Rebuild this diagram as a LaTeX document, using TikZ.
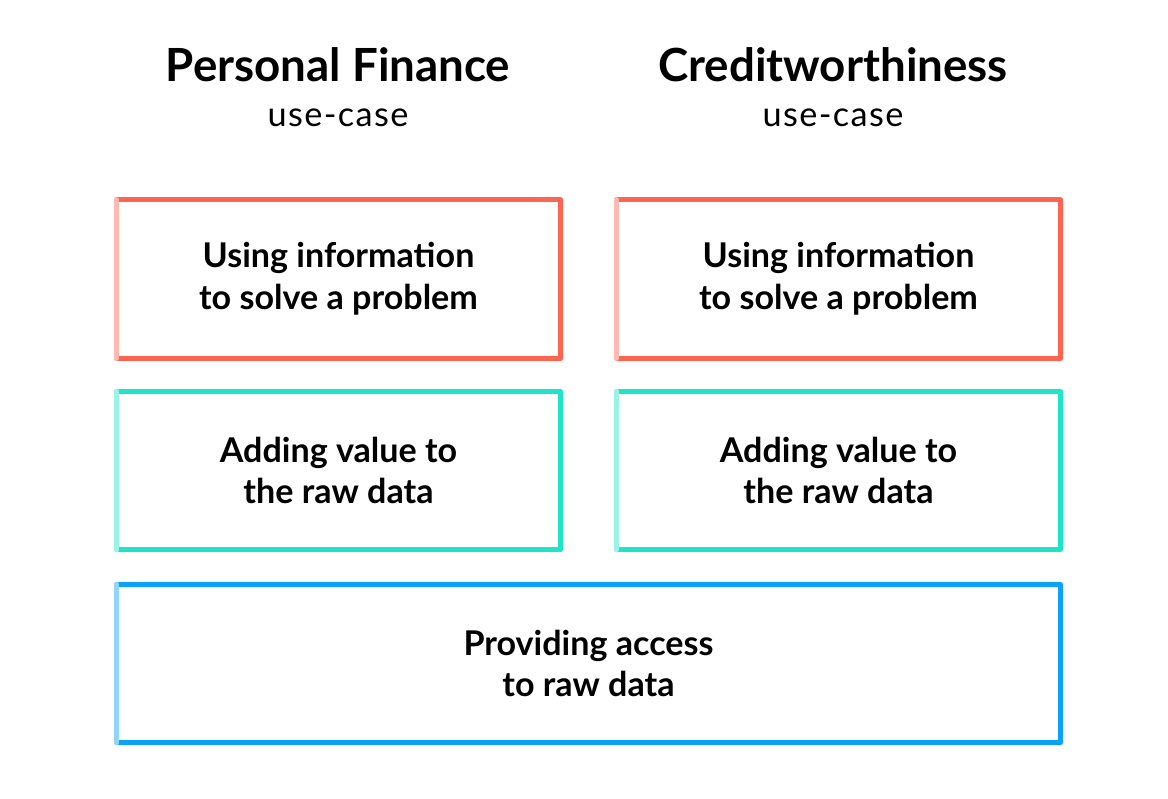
\documentclass[tikz,border=0pt]{standalone}
\usepackage{fontspec}
\setmainfont{Lato}
\definecolor{boxred}{RGB}{255,100,80}
\definecolor{boxteal}{RGB}{30,228,200}
\definecolor{boxblue}{RGB}{10,162,255}
\tikzset{
  layerbox/.style={minimum width=443*0.02cm, minimum height=158*0.02cm, inner sep=0pt, align=center,
    font=\fontsize{19.4}{23.8}\selectfont\bfseries},
  edge/.style={line width=2.8pt, line cap=round, line join=round},
  title/.style={font=\fontsize{26}{30}\selectfont\bfseries},
  subtitle/.style={font=\fontsize{19.5}{22}\selectfont\addfontfeatures{LetterSpace=4}}
}
\begin{document}
\begin{tikzpicture}[x=0.02cm,y=-0.02cm]
\useasboundingbox (0,0) rectangle (1168,798);
% headings:
\node[title] (pf) at (338,65) {Personal Finance};
\node[subtitle] (pfsub) at (338,118) {use-case};
\node[title] (cw) at (833,65) {Creditworthiness};
\node[subtitle] (cwsub) at (833,118) {use-case};
% upper layer:
\node[layerbox] (usePF) at (338.5,279) {Using information\\to solve a problem};
\node[layerbox] (useCW) at (838.5,279) {Using information\\to solve a problem};
% middle layer:
\node[layerbox] (addPF) at (338.5,470.5) {Adding value to\\the raw data};
\node[layerbox] (addCW) at (838.5,470.5) {Adding value to\\the raw data};
% bottom layer:
\node[layerbox, minimum width=943*0.02cm] (raw) at (588.5,663.5) {Providing access\\to raw data};
% box outlines, left sides faded:
\draw[edge, boxred] (usePF.north west) -- (usePF.north east) -- (usePF.south east) -- (usePF.south west);
\draw[edge, boxred!45] (usePF.south west) -- (usePF.north west);
\draw[edge, boxred] (useCW.north west) -- (useCW.north east) -- (useCW.south east) -- (useCW.south west);
\draw[edge, boxred!45] (useCW.south west) -- (useCW.north west);
\draw[edge, boxteal] (addPF.north west) -- (addPF.north east) -- (addPF.south east) -- (addPF.south west);
\draw[edge, boxteal!45] (addPF.south west) -- (addPF.north west);
\draw[edge, boxteal] (addCW.north west) -- (addCW.north east) -- (addCW.south east) -- (addCW.south west);
\draw[edge, boxteal!45] (addCW.south west) -- (addCW.north west);
\draw[edge, boxblue] (raw.north west) -- (raw.north east) -- (raw.south east) -- (raw.south west);
\draw[edge, boxblue!45] (raw.south west) -- (raw.north west);
\end{tikzpicture}
\end{document}
